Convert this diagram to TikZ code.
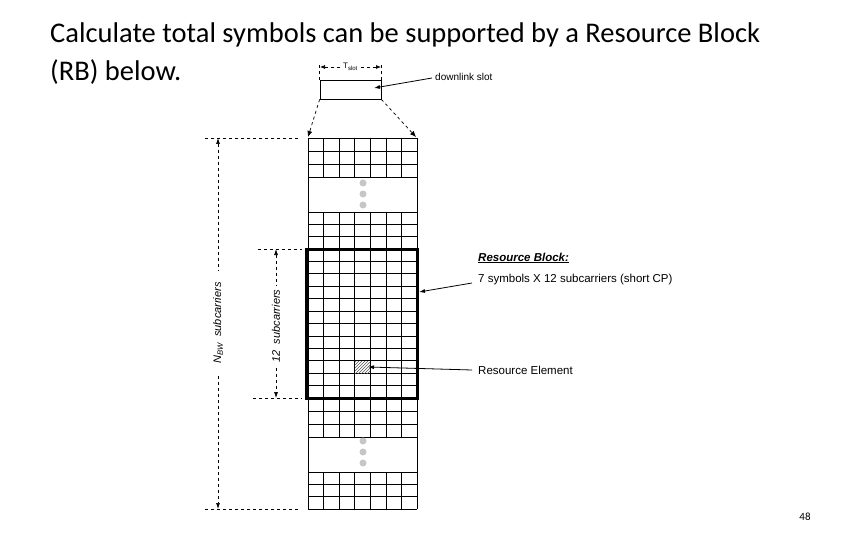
\documentclass[tikz,border=0pt]{standalone}
\usepackage{fontspec}
\setmainfont{Carlito}
\newfontfamily\arial{Liberation Sans}
\usetikzlibrary{patterns,arrows.meta}
\begin{document}
\begin{tikzpicture}[x=1pt,y=-1pt,
  gridln/.style={line width=0.7pt},
  dsh/.style={dashed,line width=0.7pt,dash pattern=on 3pt off 3pt},
  arr/.style={-{Latex[length=6pt,width=4pt]},line width=0.8pt},
  lbl/.style={font=\arial\fontsize{11.5}{13}\selectfont,anchor=west,inner sep=0},
  dot/.style={circle,fill=gray!45,minimum size=7pt,inner sep=0}]
\useasboundingbox (0,0) rectangle (861,540);
\node[anchor=west,inner sep=0,font=\fontsize{28.5}{32}\selectfont] (t1) at (50,35) {Calculate total symbols can be supported by a Resource Block};
\node[anchor=west,inner sep=0,font=\fontsize{28.5}{32}\selectfont] (t2) at (50,72) {(RB) below.};
\node[inner sep=0,font=\fontsize{11}{12}\selectfont] (pg) at (805,517) {48};
% grid blocks
\def\gw{15.57}
\foreach \ya/\yb/\n in {138/177/3,212/249/3,249/398/12,398/437/3,472/509/3}{
  \pgfmathsetmacro\h{(\yb-\ya)/\n}
  \foreach \i in {0,...,\n}{\draw[gridln] (308,\ya+\i*\h) -- (417,\ya+\i*\h);}
  \foreach \j in {0,...,7}{\draw[gridln] (308+\j*\gw,\ya) -- (308+\j*\gw,\yb);}
}
\draw[gridln] (308,177) -- (308,212) (417,177) -- (417,212);
\draw[gridln] (308,437) -- (308,472) (417,437) -- (417,472);
\node[dot] (d1) at (363,183) {};\node[dot] (d2) at (363,194) {};\node[dot] (d3) at (363,205) {};
\node[dot] (d4) at (363,441) {};\node[dot] (d5) at (363,452) {};\node[dot] (d6) at (363,463) {};
% resource element
\fill[pattern=north east lines,pattern color=gray!70!black] (355,361) rectangle (370,373);
\coordinate (re) at (368,367);
% RB box
\draw[line width=3pt] (306,249) rectangle (417,398);
\coordinate (rbr) at (419,292);
% downlink slot
\node[draw,line width=0.7pt,minimum width=61pt,minimum height=19pt,inner sep=0] (slot) at (350.5,89.5) {};
\draw[dsh] (slot.north west) -- ++(0,-18) (slot.north east) -- ++(0,-18);
\coordinate (ta) at (320,67); \coordinate (tb) at (381,67);
\draw[dsh,{Latex[length=5pt,width=4pt]}-{Latex[length=5pt,width=4pt]}] (ta) -- node[fill=white,inner sep=1pt,font=\arial\fontsize{8}{9}\selectfont]{T\textsubscript{slot}} (tb);
\coordinate (gtl) at (308,137); \coordinate (gtr) at (416,137);
\draw[dsh,-{Latex[length=6pt,width=5pt]}] (slot.south west) -- (gtl);
\draw[dsh,-{Latex[length=6pt,width=5pt]}] (slot.south east) -- (gtr);
\node[lbl,font=\arial\fontsize{10}{11}\selectfont] (dl) at (435,77) {downlink slot};
\coordinate (slotp) at (374,88);
\draw[arr] (dl.west) ++(-3,1) -- (slotp);
% labels right
\node[lbl,font=\arial\fontsize{11.5}{13}\selectfont\bfseries\itshape] (rb) at (478,258) {\underline{Resource Block:}};
\node[lbl] (rb2) at (478,280) {7 symbols X 12 subcarriers (short CP)};
\draw[arr] (472,283) -- (rbr);
\node[lbl] (rel) at (478,370) {Resource Element};
\draw[arr] (rel.west) ++(-6,0) -- (re);
% N_BW
\draw[dsh] (205,138) -- (300,138) (205,509) -- (300,509);
\coordinate (n1) at (218,138); \coordinate (n2) at (218,509);
\draw[dsh,{Latex[length=6pt,width=4pt]}-] (n1) -- (218,270);
\draw[dsh,-{Latex[length=6pt,width=4pt]}] (218,376) -- (n2);
\node[rotate=90,font=\arial\fontsize{11}{12}\selectfont\itshape] (nbw) at (218,323) {N\textsubscript{BW}\ \ subcarriers};
% 12 subcarriers
\draw[dsh] (258,249) -- (302,249) (253,398) -- (302,398);
\coordinate (s1) at (276,249); \coordinate (s2) at (276,398);
\draw[dsh,{Latex[length=6pt,width=4pt]}-] (s1) -- (276,285);
\draw[dsh,-{Latex[length=6pt,width=4pt]}] (276,368) -- (s2);
\node[rotate=90,font=\arial\fontsize{11}{12}\selectfont\itshape] (sc) at (276,326) {12\ \ subcarriers};
\end{tikzpicture}
\end{document}
